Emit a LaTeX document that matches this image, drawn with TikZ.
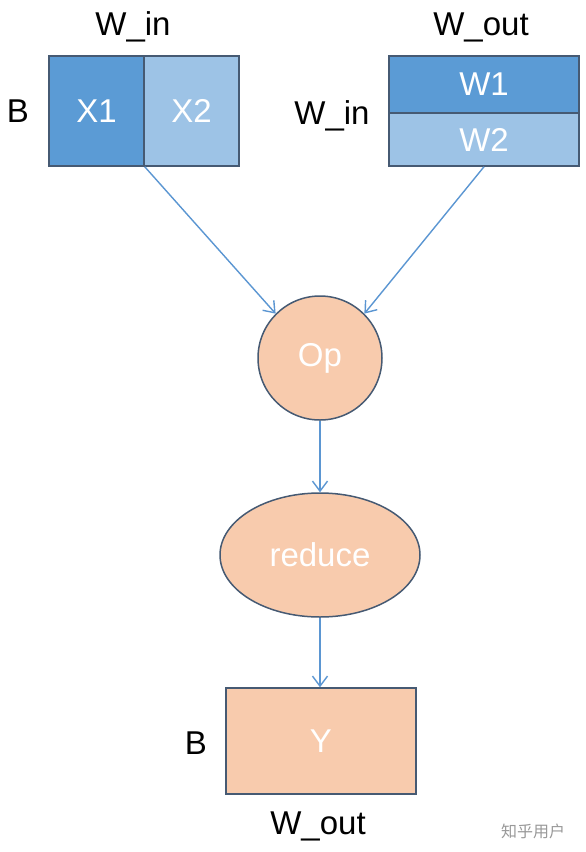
\documentclass[tikz,border=0pt]{standalone}
\usepackage{fontspec}
\setmainfont{Liberation Sans}
\newfontfamily\cjk{Noto Sans CJK SC}
\usetikzlibrary{arrows.meta,shapes.geometric}
\definecolor{edgec}{RGB}{70,90,115}
\definecolor{darkb}{RGB}{91,155,213}
\definecolor{lightb}{RGB}{157,195,230}
\definecolor{peach}{RGB}{248,203,173}
\definecolor{arrowc}{RGB}{91,150,210}
\tikzset{
  cell/.style={draw=edgec, line width=1.5pt, inner sep=0pt, text=white, font=\fontsize{33}{36}\selectfont},
  lbl/.style={inner sep=0pt, font=\fontsize{33}{36}\selectfont},
  peachshape/.style={draw=edgec, line width=1.5pt, fill=peach, text=white, inner sep=0pt, font=\fontsize{33}{36}\selectfont},
  conn/.style={draw=arrowc, line width=1.4pt, -{Straight Barb[length=10pt,width=15pt,line width=1.4pt]}}
}
\begin{document}
\begin{tikzpicture}[x=1pt,y=-1pt]
\useasboundingbox[fill=white] (0,0) rectangle (586,852);
% X box
\node[cell, fill=darkb, minimum width=95pt, minimum height=110pt] (X1) at (96.5,111) {X1};
\node[cell, fill=lightb, minimum width=95pt, minimum height=110pt] (X2) at (191.5,111) {X2};
% W box
\node[cell, fill=darkb, minimum width=190pt, minimum height=57pt] (W1) at (484,84.5) {W1};
\node[cell, fill=lightb, minimum width=190pt, minimum height=53pt] (W2) at (484,139.5) {W2};
% labels
\node[lbl] (lwin) at (133,27) {W\_in};
\node[lbl] (lb1) at (18,111) {B};
\node[lbl] (lwout) at (481,27) {W\_out};
\node[lbl] (lwin2) at (332,116) {W\_in};
% Op
\node[peachshape, circle, minimum size=124pt] (Op) at (320,358) {Op};
% reduce
\node[peachshape, ellipse, minimum width=200pt, minimum height=124pt] (red) at (320,555) {reduce};
% Y
\node[peachshape, rectangle, minimum width=190pt, minimum height=106pt] (Y) at (321,741) {Y};
\node[lbl] (lb2) at (196,743) {B};
\node[lbl] (lwout2) at (318,826) {W\_out};
% watermark
\node[inner sep=0pt, text=black!40, font=\cjk\fontsize{16}{18}\selectfont] (wm) at (533,831) {知乎用户};
% connectors
\draw[conn] (X1.south east) -- (Op.135);
\draw[conn] (W2.south) -- (Op.45);
\draw[conn] (Op.south) -- (red.north);
\draw[conn] (red.south) -- (red.south |- Y.north);
\end{tikzpicture}
\end{document}
